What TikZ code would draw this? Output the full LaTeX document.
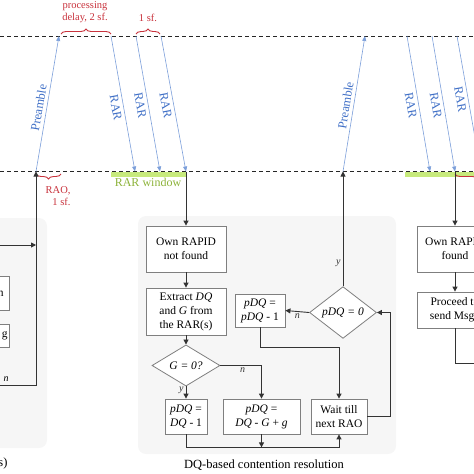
\documentclass[tikz,border=0pt]{standalone}
\usepackage{fontspec}
\setmainfont{Liberation Serif}
\usepackage{xcolor}
\definecolor{raBlue}{HTML}{3F6FC6}
\definecolor{raBlueLine}{HTML}{7C9FDA}
\definecolor{raRed}{HTML}{C8323C}
\definecolor{raGreen}{HTML}{8DB33A}
\definecolor{raGreenBar}{HTML}{C7EA7C}
\definecolor{raGray}{HTML}{7F7F7F}
\definecolor{raDark}{HTML}{333333}
\definecolor{raPanel}{HTML}{F6F6F6}
\usepackage{tikz}
\usetikzlibrary{arrows.meta,calc,positioning,shapes.geometric,decorations.pathreplacing}

\begin{document}
\begin{tikzpicture}[x=1pt,y=-1pt,font=\fontsize{11.5}{14}\selectfont]
  \tikzset{
    panel/.style={
      rounded corners=8pt,
      fill=raPanel,
      draw=none,
    },
    flowbox/.style={
      draw=raGray,
      fill=white,
      line width=0.8pt,
      align=center,
      inner sep=2pt,
    },
    decision/.style={
      diamond,
      draw=raGray,
      fill=white,
      line width=0.8pt,
      inner sep=0pt,
      font=\fontsize{11.5}{13}\selectfont\itshape,
    },
    flow/.style={raDark,line width=0.9pt,-{Triangle[length=5pt,width=5pt]}},
    link/.style={raDark,line width=0.9pt},
    msg/.style={raBlueLine,line width=0.6pt,-{Triangle[length=5pt,width=4pt]}},
    msglabel/.style={text=raBlue,font=\fontsize{12.5}{14}\selectfont,sloped},
    timeline/.style={black!85,line width=0.7pt,dash pattern=on 4pt off 3pt},
    redbrace/.style={raRed,line width=0.9pt,decorate,decoration={brace,amplitude=5pt}},
    spanlabel/.style={text=raRed,font=\fontsize{10.5}{12.5}\selectfont},
    answer/.style={font=\fontsize{10}{12}\selectfont\itshape,inner sep=2pt},
  }

  \path[use as bounding box] (0,0) rectangle (474,474);

  % Background panels of the two procedures.
  \fill[panel] (-20,218) rectangle (47,448);
  \fill[panel] (138,216) rectangle (396,454);

  % RAR windows sit just below the access-point time line.
  \fill[raGreenBar] (111,171.5) rectangle (186,177);
  \fill[raGreenBar] (405,171.5) rectangle (480,177);

  \draw[timeline] (0,36) -- (474,36);
  \draw[timeline] (0,171.5) -- (474,171.5);

  % Time-line end points of the messages.
  \coordinate (raoA) at (36,171.5);
  \coordinate (upA) at (59,36);
  \coordinate (rarA1) at (111,36);
  \coordinate (rarB1) at (135,171.5);
  \coordinate (rarA2) at (136,36);
  \coordinate (rarB2) at (160,171.5);
  \coordinate (rarA3) at (161,36);
  \coordinate (rarB3) at (186,171.5);
  \coordinate (raoB) at (343,171.5);
  \coordinate (upB) at (365,36);
  \coordinate (rarC1) at (407,36);
  \coordinate (rarD1) at (430,171.5);
  \coordinate (rarC2) at (432,36);
  \coordinate (rarD2) at (455,171.5);
  \coordinate (rarC3) at (457,36);
  \coordinate (rarD3) at (481,171.5);

  \draw[msg] (raoA) -- node[msglabel,above,pos=0.46] {Preamble} (upA);
  \draw[msg] (rarA1) -- node[msglabel,below,pos=0.52] {RAR} (rarB1);
  \draw[msg] (rarA2) -- node[msglabel,below,pos=0.5] {RAR} (rarB2);
  \draw[msg] (rarA3) -- node[msglabel,below,pos=0.5] {RAR} (rarB3);
  \draw[msg] (raoB) -- node[msglabel,above,pos=0.48] {Preamble} (upB);
  \draw[msg] (rarC1) -- node[msglabel,below,pos=0.5] {RAR} (rarD1);
  \draw[msg] (rarC2) -- node[msglabel,below,pos=0.5] {RAR} (rarD2);
  \draw[msg] (rarC3) -- node[msglabel,below,pos=0.46] {RAR} (rarD3);

  % Durations.
  \draw[redbrace] (61,34) -- (111,34);
  \draw[redbrace] (136,34) -- (160,34);
  \draw[redbrace] (61,174) -- (36,174);
  \draw[redbrace] (500,174) -- (455,174);
  \node[spanlabel,align=center] (delayLbl) at (85,12) {processing\\delay, 2 sf.};
  \node[spanlabel] (sfLbl) at (148,18) {1 sf.};
  \node[spanlabel,align=right,anchor=north east] (raoLbl) at (74,183) {RAO,\\1 sf.};
  \node[text=raGreen,font=\fontsize{12}{14}\selectfont] (windowLbl) at (148,182) {RAR window};

  % Left procedure (cut by the frame).
  \coordinate (leftIn) at (-20,245);
  \coordinate (leftJoin) at (36,245);
  \coordinate (leftOut) at (-20,385);
  \coordinate (leftLoop) at (36,385);
  \node[flowbox,anchor=north east,minimum height=34pt,text width=30pt,align=right,inner xsep=6pt]
    (sendA) at (10,276) {n};
  \node[flowbox,anchor=north east,minimum height=23pt,text width=34pt,align=right]
    (sendB) at (10,324) {g};
  \draw[flow] (leftIn) -- (leftJoin);
  \draw[flow] (leftOut) -- (leftLoop) -- (raoA);
  \node[answer] (leftN) at (6,379) {n};
  \node[font=\fontsize{12.5}{14}\selectfont,anchor=east] (capLeft) at (11,463) {s)};

  % DQ-based contention resolution.
  \node[flowbox,minimum width=80pt,minimum height=46pt] (notFound) at (186,249)
    {Own RAPID\\not found};
  \node[flowbox,minimum width=80pt,minimum height=47pt] (extract) at (186,311.5)
    {Extract \textit{DQ}\\and \textit{G} from\\the RAR(s)};
  \node[decision,minimum width=68pt,minimum height=29pt] (gZero) at (186,365.5)
    {G = 0?};
  \node[flowbox,minimum width=42pt,minimum height=35pt] (pDQone) at (186,416.5)
    {\textit{pDQ} =\\\textit{DQ} - 1};
  \node[flowbox,minimum width=77pt,minimum height=35pt] (pDQg) at (261.5,416.5)
    {\textit{pDQ} =\\\textit{DQ} - \textit{G} + \textit{g}};
  \node[flowbox,minimum width=56pt,minimum height=35pt] (waitRAO) at (339,416.5)
    {Wait till\\next RAO};
  \node[decision,minimum width=67pt,minimum height=35pt] (pDQzero) at (343,312.5)
    {pDQ = 0};
  \node[flowbox,minimum width=50pt,minimum height=33pt] (pDQdec) at (260,310.5)
    {\textit{pDQ} =\\\textit{pDQ} - 1};

  \draw[flow] (rarB3) -- (notFound);
  \draw[flow] (notFound) -- (extract);
  \draw[flow] (extract) -- (gZero);
  \draw[flow] (gZero.south) -- node[answer,left,pos=0.35] {y} (pDQone.north);
  \draw[flow] (gZero.east) -| node[answer,below,pos=0.27] {n} (pDQg.north);
  \draw[flow] (pDQone.south) -- ++(0,13) -| (waitRAO.south);
  \draw[flow] (pDQg.south) -- ++(0,13);
  \draw[flow] (waitRAO.east) -- ++(23,0) |- (pDQzero.east);
  \draw[flow] (pDQzero.west) -- node[answer,below] {n} (pDQdec.east);
  \draw[flow] (pDQdec.south) -- ++(0,20) -| (waitRAO.north);
  \draw[flow] (pDQzero.north) -- node[answer,left,pos=0.2] {y} (raoB);
  \node[font=\fontsize{12.5}{14}\selectfont] (capDQ) at (264,465)
    {DQ-based contention resolution};

  % Right procedure (cut by the frame).
  \node[flowbox,minimum width=76pt,minimum height=46pt] (found) at (455,249)
    {Own RAPID\\found};
  \node[flowbox,minimum width=76pt,minimum height=36pt] (proceed) at (455,310)
    {Proceed to\\send Msg3};
  \draw[flow] (rarD2) -- (found);
  \draw[flow] (found) -- (proceed);
  \draw[link] (proceed.south) -- ++(0,35) -- ++(40,0);
\end{tikzpicture}
\end{document}
